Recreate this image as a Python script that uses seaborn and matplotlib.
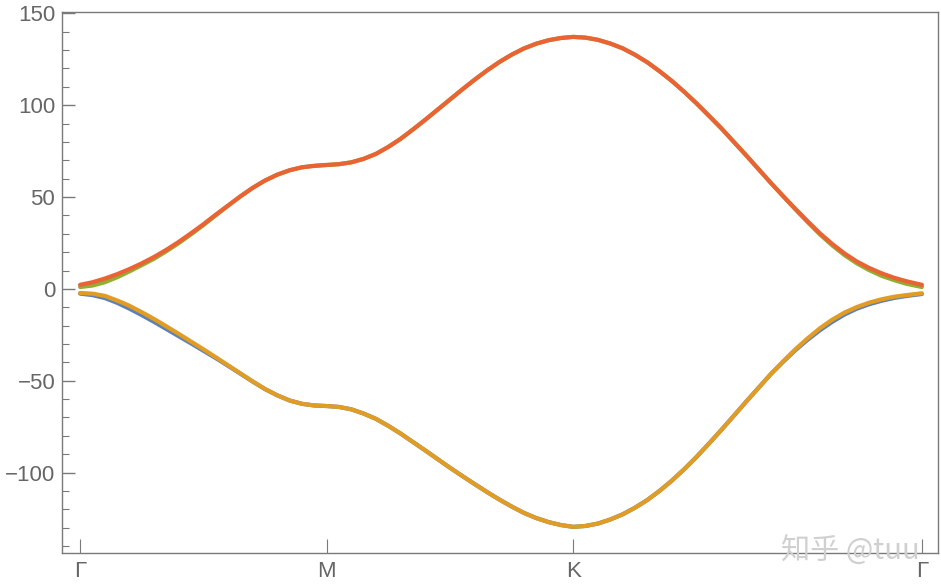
import pandas as pd
import matplotlib.pyplot as plt
from matplotlib.ticker import MultipleLocator
import seaborn as sns

sns.set_style('ticks')
plt.rcParams['font.family'] = ['Liberation Sans', 'DejaVu Sans']

# path coordinate along Γ -> M -> K -> Γ, one list per segment
k_GM = [0.0, 0.05, 0.1, 0.15, 0.2, 0.25, 0.3, 0.35, 0.4, 0.45, 0.5,
        0.55, 0.6, 0.65, 0.7, 0.75, 0.8, 0.85, 0.9, 0.95, 1.0]
k_MK = [1.05, 1.1, 1.15, 1.2, 1.25, 1.3, 1.35, 1.4, 1.45, 1.5,
        1.55, 1.6, 1.65, 1.7, 1.75, 1.8, 1.85, 1.9, 1.95, 2.0]
k_KG = [2.05, 2.1, 2.15, 2.2, 2.25, 2.3, 2.35, 2.4, 2.45, 2.5, 2.55, 2.6, 2.65, 2.7,
        2.75, 2.8, 2.85, 2.9, 2.95, 3.0, 3.05, 3.1, 3.15, 3.2, 3.25, 3.3, 3.35, 3.414]

# upper pair (green, red)
red_GM = [2.2, 3.6, 5.6, 8.0, 10.8, 13.9, 17.4, 21.3, 25.6, 30.3, 35.2,
          40.4, 45.4, 50.4, 55.0, 59.0, 62.2, 64.6, 66.2, 67.0, 67.5]
green_GM = [1.0, 1.8, 3.6, 6.3, 9.5, 12.9, 16.4, 20.5, 24.9, 29.7, 34.7,
            40.0, 45.2, 50.3, 55.0, 59.0, 62.2, 64.6, 66.2, 67.0, 67.4]
upper_MK = [67.9, 68.9, 70.8, 73.5, 77.3, 81.7, 86.8, 92.1, 97.6, 103.1,
            108.6, 113.9, 118.9, 123.5, 127.5, 130.9, 133.5, 135.4, 136.6, 137.2]
red_KG = [136.8, 135.6, 133.6, 131.0, 127.5, 123.4, 118.5, 113.2, 107.3, 101.0, 94.3, 87.5, 80.2, 72.9,
          65.4, 57.9, 50.7, 43.7, 36.9, 30.3, 24.5, 19.3, 14.9, 11.4, 8.5, 6.1, 4.2, 2.2]
green_KG = [136.8, 135.6, 133.6, 131.0, 127.5, 123.4, 118.5, 113.2, 107.3, 101.0, 94.3, 87.5, 80.2, 72.9,
            65.4, 57.9, 50.6, 43.4, 36.4, 29.7, 23.7, 18.4, 13.9, 10.2, 7.1, 4.8, 2.8, 1.0]

# lower pair (blue, orange)
orange_GM = [-2.2, -2.6, -3.8, -6.3, -9.2, -12.7, -16.4, -20.4, -24.5, -28.7, -32.9,
             -37.2, -41.6, -46.0, -50.4, -54.5, -58.0, -60.8, -62.6, -63.5, -63.8]
blue_GM = [-2.6, -3.4, -5.0, -7.6, -10.8, -14.3, -18.0, -21.9, -25.8, -29.7, -33.7,
           -37.7, -41.9, -46.2, -50.5, -54.6, -58.0, -60.8, -62.6, -63.5, -63.8]
lower_MK = [-64.3, -65.6, -67.9, -70.8, -74.6, -78.8, -83.4, -88.0, -92.7, -97.4,
            -101.9, -106.3, -110.6, -114.7, -118.5, -122.0, -124.8, -127.0, -128.6, -129.6]
orange_KG = [-129.1, -127.8, -125.6, -122.8, -119.2, -115.0, -110.0, -104.4, -98.2, -91.5, -84.3, -76.9, -69.3, -61.6,
             -54.1, -46.6, -39.6, -33.0, -27.0, -21.5, -16.8, -12.9, -9.9, -7.5, -5.7, -4.3, -3.4, -2.4]
blue_KG = [-129.1, -127.8, -125.6, -122.8, -119.2, -115.0, -110.0, -104.4, -98.2, -91.5, -84.3, -76.9, -69.3, -61.6,
           -54.1, -46.6, -39.9, -33.5, -27.8, -22.6, -18.0, -14.0, -10.8, -8.4, -6.5, -5.0, -3.9, -2.8]

hs_points = [0, 1, 2, 3.414]
hs_labels = ['Γ', 'M', 'K', 'Γ']

colors = {'b1': '#5E81B5', 'b2': '#E19C24', 'b3': '#8FB032', 'b4': '#EB6235'}

k = k_GM + k_MK + k_KG
df = pd.concat([
    pd.DataFrame({'k': k, 'E': blue_GM + lower_MK + blue_KG, 'band': 'b1'}),
    pd.DataFrame({'k': k, 'E': orange_GM + lower_MK + orange_KG, 'band': 'b2'}),
    pd.DataFrame({'k': k, 'E': green_GM + upper_MK + green_KG, 'band': 'b3'}),
    pd.DataFrame({'k': k, 'E': red_GM + upper_MK + red_KG, 'band': 'b4'}),
])

fig = plt.figure(figsize=(9.41, 5.87), dpi=100)
ax = fig.add_axes([0.066, 0.058, 0.931, 0.922])

sns.lineplot(data=df, x='k', y='E', hue='band', palette=colors, estimator=None,
             sort=False, linewidth=3.0, legend=False, ax=ax)

ax.set_xlim(-0.073, 3.48)
ax.set_ylim(-143.8, 150.9)
ax.set_xticks(hs_points)
ax.set_xticklabels(hs_labels)
ax.yaxis.set_major_locator(MultipleLocator(50))
ax.yaxis.set_minor_locator(MultipleLocator(10))
ax.set_xlabel('')
ax.set_ylabel('')

for s in ax.spines.values():
    s.set_color('#7a7a7a')
    s.set_linewidth(1.0)

ax.tick_params(axis='y', which='major', direction='in', length=9, width=1,
               color='#7a7a7a', labelcolor='#666666', labelsize=16, pad=5)
ax.tick_params(axis='y', which='minor', direction='in', length=5, width=0.8,
               color='#7a7a7a')
ax.tick_params(axis='x', which='major', direction='in', length=10, width=0.8,
               color='#7a7a7a', labelcolor='#666666', labelsize=16, pad=6)

# watermark
fig.text(0.830, 0.046, '知乎 @tuu', fontsize=21, color='#d0d0d0',
         family=['Noto Sans CJK SC', 'DejaVu Sans'])

plt.savefig('out.png', dpi=100)
